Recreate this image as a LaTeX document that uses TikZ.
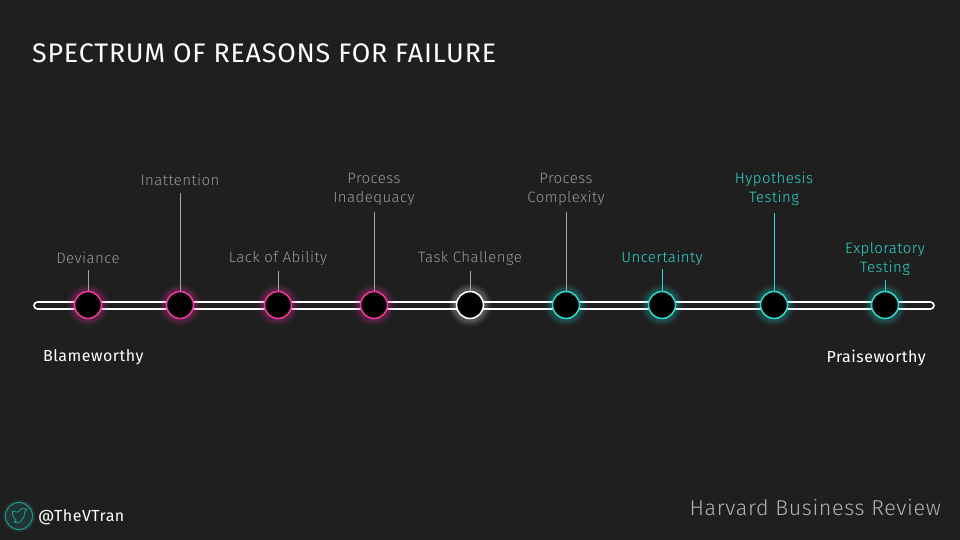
\documentclass[tikz,border=0pt]{standalone}
\usepackage{fontspec}
\setmainfont{Fira Sans}[UprightFont={* Light},LetterSpace=3]
\newfontfamily\regf{Fira Sans}[LetterSpace=3]
\begin{document}
\begin{tikzpicture}[x=1pt,y=-1pt,
  lbl/.style={font=\fontsize{15}{17}\selectfont,align=center,text=gray!80!white,inner sep=0pt},
  tlbl/.style={lbl,text=tealc},
  stem/.style={draw=gray!70,line width=0.5pt},
  tstem/.style={draw=tealc,line width=0.6pt},
  dot/.style={circle,minimum size=27pt,inner sep=0pt,fill=black,line width=1.6pt},
]
\definecolor{bg}{HTML}{1F1F1F}
\definecolor{pinkc}{HTML}{F0369F}
\definecolor{tealc}{HTML}{2BD6CA}
\useasboundingbox (0,0) rectangle (960,540);
\fill[bg] (0,0) rectangle (960,540);
\node[anchor=west,text=white,font=\regf\fontsize{26.8}{28}\selectfont,inner sep=0pt] (title) at (32,53) {SPECTRUM OF REASONS FOR FAILURE};
% bar
\draw[white,line width=1.6pt,fill=bg,rounded corners=3.5pt] (34,302) rectangle (934,309);
% dots
\foreach \n/\x/\c in {d1/88/pinkc,d2/180/pinkc,d3/278/pinkc,d4/374/pinkc,d5/470/white,d6/566/tealc,d7/662/tealc,d8/774/tealc,d9/885/tealc}{
  \foreach \w/\o in {8/0.05,6/0.08,4/0.12}{\fill[\c,opacity=\o] (\x,305) circle ({13.5+\w});}
  \node[dot,draw=\c] (\n) at (\x,305) {};
}
% labels
\node[lbl] (l1) at (88,258) {Deviance};
\node[lbl] (l2) at (180,180) {Inattention};
\node[lbl] (l3) at (278,258) {Lack of Ability};
\node[lbl] (l4) at (374,189) {Process\\[2pt]Inadequacy};
\node[lbl] (l5) at (470,258) {Task Challenge};
\node[lbl] (l6) at (566,189) {Process\\[2pt]Complexity};
\node[tlbl] (l7) at (662,258) {Uncertainty};
\node[tlbl] (l8) at (774,189) {Hypothesis\\[2pt]Testing};
\node[tlbl] (l9) at (885,259) {Exploratory\\[2pt]Testing};
\draw[stem] (l1.south)++(0,6) -- (d1.north);
\draw[stem] (l2.south)++(0,7) -- (d2.north);
\draw[stem] (l3.south)++(0,6) -- (d3.north);
\draw[stem] (l4.south)++(0,7) -- (d4.north);
\draw[stem] (l5.south)++(0,6) -- (d5.north);
\draw[stem] (l6.south)++(0,7) -- (d6.north);
\draw[tstem] (l7.south)++(0,4) -- (d7.north);
\draw[tstem] (l8.south)++(0,7) -- (d8.north);
\draw[tstem] (l9.south)++(0,4) -- (d9.north);
\node[anchor=west,text=white,font=\regf\fontsize{16}{18}\selectfont,inner sep=0pt] (blame) at (43,357) {Blameworthy};
\node[anchor=east,text=white,font=\regf\fontsize{16}{18}\selectfont,inner sep=0pt] (praise) at (926,358) {Praiseworthy};
\node[anchor=east,text=gray!60!white,font=\fontsize{21.5}{23}\selectfont,inner sep=0pt] (hbr) at (941,508) {Harvard Business Review};
% twitter
\fill[tealc,opacity=0.12] (19,516) circle (16);
\node[circle,draw=tealc!70!black,line width=1pt,minimum size=27pt,inner sep=0pt] (tw) at (19,516) {};
\draw[tealc!70!black,line width=0.9pt,rounded corners=1.5pt] (12,510) -- (13,517) -- (17,521) -- (13,522) -- (19,523) -- (24,517) -- (25,511) -- (27,509) -- (24,509) -- (21,508) -- (19,512) -- (15,512) -- cycle;
\node[anchor=west,text=white,font=\regf\fontsize{16}{18}\selectfont,inner sep=0pt] (handle) at (38,517) {@TheVTran};
\end{tikzpicture}
\end{document}
